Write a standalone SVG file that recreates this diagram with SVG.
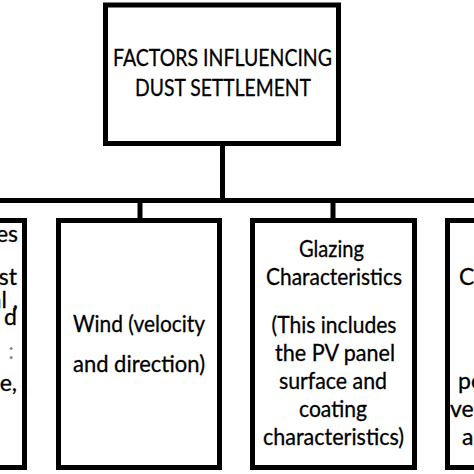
<svg xmlns="http://www.w3.org/2000/svg" width="474" height="474" viewBox="0 0 474 474">
<style>
.box{fill:#fff;stroke:#000;stroke-width:5}
.conn{stroke:#000;stroke-width:5;fill:none}
text{font-family:Lato,"Liberation Sans",sans-serif;font-size:23px;fill:#000;stroke:#000;stroke-width:0.3}
.c{text-anchor:middle}
.e{text-anchor:end}
.s{text-anchor:start}
.faint{fill:#888;stroke:none}
</style>
<rect width="474" height="474" fill="#fff"/>
<g id="connectors">
<line class="conn" x1="222.5" y1="143" x2="222.5" y2="200"/>
<line class="conn" x1="0" y1="200.5" x2="474" y2="200.5" stroke-width="6"/>
<line class="conn" x1="140" y1="200" x2="140" y2="220"/>
<line class="conn" x1="333" y1="200" x2="333" y2="220"/>
</g>
<g id="root">
<rect class="box" x="105.5" y="5" width="233" height="138.5"/>
<text class="c" x="222.5" y="66" textLength="219" lengthAdjust="spacingAndGlyphs">FACTORS INFLUENCING</text>
<text class="c" x="223" y="96" textLength="176" lengthAdjust="spacingAndGlyphs">DUST SETTLEMENT</text>
</g>
<g id="dust">
<rect class="box" x="-140" y="220.5" width="164.5" height="247"/>
<text class="e" x="18" y="242">es</text>
<text class="e" x="17" y="285">st</text>
<text class="e" x="18" y="308">al ,</text>
<text class="e" x="17" y="325">d</text>
<text class="e faint" x="14" y="359">:</text>
<text class="e" x="17" y="391">e,</text>
</g>
<g id="wind">
<rect class="box" x="58.5" y="220.5" width="161" height="247"/>
<text class="c" x="139" y="332" textLength="132" lengthAdjust="spacingAndGlyphs">Wind (velocity</text>
<text class="c" x="139" y="372" textLength="132" lengthAdjust="spacingAndGlyphs">and direction)</text>
</g>
<g id="glazing">
<rect class="box" x="252.5" y="220.5" width="162" height="247"/>
<text class="c" x="331.5" y="257" textLength="65" lengthAdjust="spacingAndGlyphs">Glazing</text>
<text class="c" x="334" y="285" textLength="136" lengthAdjust="spacingAndGlyphs">Characteristics</text>
<text class="c" x="334" y="333" textLength="125" lengthAdjust="spacingAndGlyphs">(This includes</text>
<text class="c" x="335" y="361" textLength="120" lengthAdjust="spacingAndGlyphs">the PV panel</text>
<text class="c" x="333" y="389" textLength="108" lengthAdjust="spacingAndGlyphs">surface and</text>
<text class="c" x="333" y="417" textLength="68" lengthAdjust="spacingAndGlyphs">coating</text>
<text class="c" x="333.5" y="445" textLength="141" lengthAdjust="spacingAndGlyphs">characteristics)</text>
</g>
<g id="climate">
<rect class="box" x="447.5" y="220.5" width="170" height="247"/>
<text class="s" x="459" y="285">Cl</text>
<text class="s" x="458" y="389">pe</text>
<text class="s" x="450" y="417">ve</text>
<text class="s" x="462" y="445">a</text>
</g>
</svg>
